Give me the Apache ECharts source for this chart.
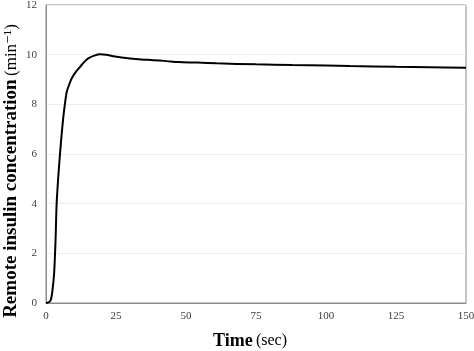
<!DOCTYPE html>
<html>
<head>
<meta charset="utf-8">
<script src="https://cdn.jsdelivr.net/npm/echarts@6/dist/echarts.min.js"></script>
<style>
  html, body { margin: 0; padding: 0; background: #fff; }
  #chart { width: 474px; height: 351px; }
</style>
</head>
<body>
<div id="chart"></div>
<script>
  // time (sec) and remote insulin concentration
  var timeSec = [0, 1, 1.7, 2.3, 2.9, 3.4, 3.8, 4.4, 5, 5.6, 6.2, 6.8, 7.4, 8.3, 9.2, 10.6, 12.1, 13.6, 15.1, 17.2, 19.3, 21.5, 24, 27, 30, 34, 38.3, 43, 47.3, 54, 61, 75, 88, 100, 108.6, 125, 137, 150]
  var conc = [0, 0.03, 0.12, 0.5, 1.2, 2.5, 4.0, 5.1, 6.0, 6.8, 7.5, 8.05, 8.5, 8.8, 9.05, 9.3, 9.5, 9.7, 9.85, 9.96, 10.02, 10.0, 9.94, 9.89, 9.85, 9.81, 9.78, 9.74, 9.7, 9.68, 9.65, 9.61, 9.58, 9.56, 9.54, 9.51, 9.49, 9.47]
  var xTicks = [0, 25, 50, 75, 100, 125, 150]
  var yTicks = [0, 2, 4, 6, 8, 10, 12]

  var points = timeSec.map(function (t, i) { return [t, conc[i]] })

  var chart = echarts.init(document.getElementById('chart'))
  var serif = '"Liberation Serif", "DejaVu Serif", serif'

  chart.setOption({
    animation: false,
    grid: {
      left: 46,
      right: 8,
      top: 5,
      bottom: 48,
      outerBoundsMode: 'none',
      containLabel: false,
      show: true,
      borderColor: '#8c8c8c',
      borderWidth: 1
    },
    xAxis: {
      type: 'value',
      min: xTicks[0],
      max: xTicks[xTicks.length - 1],
      interval: 25,
      name: '{b|Time} {n|(sec)}{s|}',
      nameLocation: 'middle',
      nameGap: 29,
      nameMoveOverlap: false,
      nameTextStyle: {
        rich: {
          b: { fontFamily: serif, fontSize: 18, fontWeight: 'bold', color: '#000' },
          n: { fontFamily: serif, fontSize: 16, color: '#000' },
          s: { width: 12 }
        }
      },
      axisLine: { show: true, lineStyle: { color: '#8c8c8c' } },
      axisTick: { show: false },
      splitLine: { show: false },
      axisLabel: { fontFamily: serif, fontSize: 11, color: '#404040', margin: 8 }
    },
    yAxis: {
      type: 'value',
      min: yTicks[0],
      max: yTicks[yTicks.length - 1],
      interval: 2,
      name: '{b|Remote insulin concentration} {n|(min⁻¹)}{s|}',
      nameLocation: 'middle',
      nameGap: 25,
      nameMoveOverlap: false,
      nameTextStyle: {
        rich: {
          b: { fontFamily: serif, fontSize: 19, fontWeight: 'bold', color: '#000' },
          n: { fontFamily: serif, fontSize: 17, color: '#000' },
          s: { width: 34 }
        }
      },
      axisLine: { show: true, lineStyle: { color: '#8c8c8c' } },
      axisTick: { show: false },
      splitLine: { show: true, lineStyle: { color: '#ececec' } },
      axisLabel: { fontFamily: serif, fontSize: 11, color: '#404040', margin: 9 }
    },
    series: [
      {
        type: 'line',
        data: points,
        smooth: 0.3,
        showSymbol: false,
        lineStyle: { color: '#000', width: 2 }
      }
    ]
  })
</script>
</body>
</html>
